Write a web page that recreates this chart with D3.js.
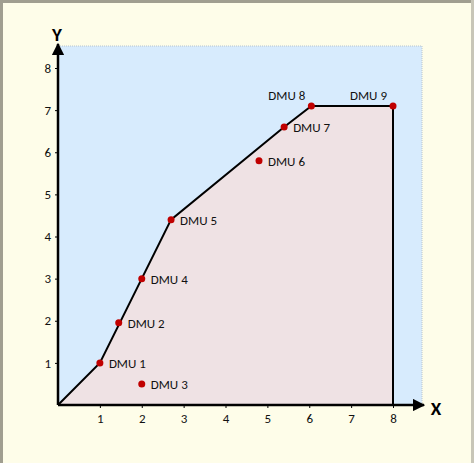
<!DOCTYPE html>
<html><head><meta charset="utf-8">
<script src="https://cdn.jsdelivr.net/npm/d3@7.9.0/dist/d3.min.js"></script>
<style>body{margin:0;background:#fff}svg{display:block}</style>
</head><body><svg id="c" width="474" height="463"></svg>
<script>
const names = ['DMU 1','DMU 2','DMU 3','DMU 4','DMU 5','DMU 6','DMU 7','DMU 8','DMU 9'];
const xs = [1, 1.45, 2, 2, 2.7, 4.8, 5.4, 6.05, 8];
const ys = [1, 1.95, 0.5, 3, 4.4, 5.8, 6.6, 7.1, 7.1];
const frontierX = [0, 1, 2, 2.7, 5.4, 6.05, 8, 8];
const frontierY = [0, 1, 3, 4.4, 6.6, 7.1, 7.1, 0];
const ticks = [1, 2, 3, 4, 5, 6, 7, 8];

const svg = d3.select('#c');
const x = d3.scaleLinear().domain([0, 8]).range([58, 393]);
const y = d3.scaleLinear().domain([0, 8]).range([405, 68]);

svg.append('rect').attr('width', 474).attr('height', 463).attr('fill', '#fefde9');
svg.append('rect').attr('width', 474).attr('height', 3).attr('fill', '#a09e90');
svg.append('rect').attr('width', 3).attr('height', 463).attr('fill', '#a09e90');
svg.append('rect').attr('x', 471).attr('width', 3).attr('height', 463).attr('fill', '#c8c6b8');

svg.append('rect').attr('x', 58).attr('y', 46).attr('width', 364).attr('height', 359)
  .attr('fill', '#d7ebfd').attr('stroke', '#b8c4cc').attr('stroke-dasharray', '1,1');

const pts = frontierX.map((d, i) => [x(d), y(frontierY[i])]);
svg.append('path').attr('d', d3.line()(pts) + 'Z')
  .attr('fill', '#efe2e4').attr('stroke', 'none');
svg.append('path').attr('d', d3.line()(pts))
  .attr('fill', 'none').attr('stroke', '#000').attr('stroke-width', 2);

svg.append('defs').append('marker').attr('id', 'ar').attr('viewBox', '0 0 10 10')
  .attr('refX', 9).attr('refY', 5).attr('markerWidth', 5).attr('markerHeight', 5)
  .attr('markerUnits', 'strokeWidth').attr('orient', 'auto')
  .append('path').attr('d', 'M0,0L10,5L0,10Z').attr('fill', '#000');
svg.append('line').attr('x1', 58).attr('y1', 405).attr('x2', 424).attr('y2', 405)
  .attr('stroke', '#000').attr('stroke-width', 2.5).attr('marker-end', 'url(#ar)');
svg.append('line').attr('x1', 58).attr('y1', 405).attr('x2', 58).attr('y2', 44)
  .attr('stroke', '#000').attr('stroke-width', 2.5).attr('marker-end', 'url(#ar)');

const font = 'Calibri, Carlito, "Liberation Sans", Arial, sans-serif';
const gx = svg.append('g').attr('transform', 'translate(0,405)')
  .call(d3.axisBottom(x).tickValues(ticks).tickSize(3).tickPadding(6));
const gy = svg.append('g').attr('transform', 'translate(58,0)')
  .call(d3.axisLeft(y).tickValues(ticks).tickSize(3).tickPadding(4));
[gx, gy].forEach(g => {
  g.select('.domain').remove();
  g.selectAll('text').attr('font-family', font).attr('font-size', 13).attr('fill', '#111');
});

svg.append('text').attr('x', 436).attr('y', 415).attr('text-anchor', 'middle')
  .attr('font-family', font).attr('font-size', 19).attr('font-weight', 'bold').text('X');
svg.append('text').attr('x', 57).attr('y', 41).attr('text-anchor', 'middle')
  .attr('font-family', font).attr('font-size', 19).attr('font-weight', 'bold').text('Y');

svg.selectAll('circle.p').data(xs).join('circle')
  .attr('cx', d => x(d)).attr('cy', (d, i) => y(ys[i])).attr('r', 3.5).attr('fill', '#c00000');

const above = i => i >= 7;
svg.selectAll('text.l').data(names).join('text')
  .attr('x', (d, i) => above(i) ? x(xs[i]) - 43 : x(xs[i]) + 9)
  .attr('y', (d, i) => above(i) ? y(ys[i]) - 6 : y(ys[i]) + 5)
  .attr('font-family', font).attr('font-size', 13).attr('fill', '#111')
  .text(d => d);
</script></body></html>
